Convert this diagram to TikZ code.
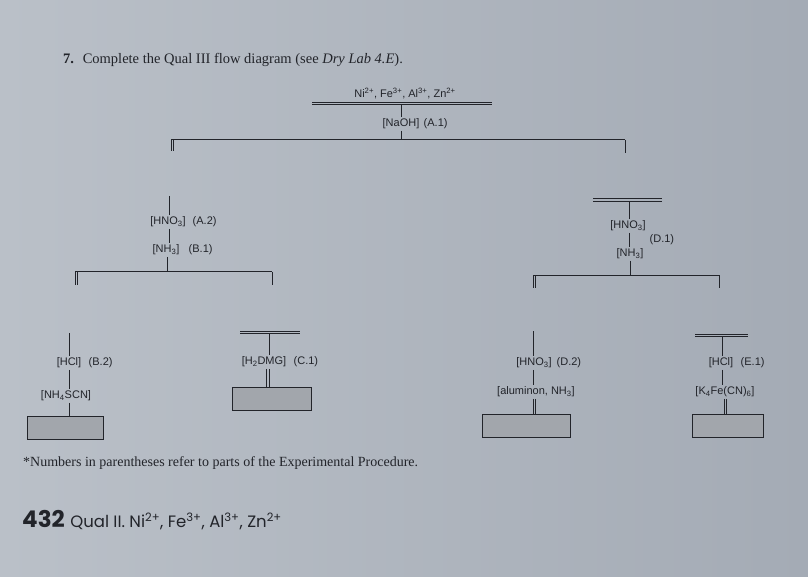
\documentclass[tikz,border=0pt]{standalone}
\usepackage{fontspec}
\setmainfont{Liberation Serif}
\setsansfont{Liberation Sans}
\newfontfamily\geofont{Poppins}
\definecolor{ink}{RGB}{34,36,42}
\definecolor{paperL}{RGB}{186,192,200}
\definecolor{paperR}{RGB}{164,171,181}
\definecolor{boxgray}{RGB}{162,166,172}
\begin{document}
\begin{tikzpicture}[x=1pt,y=-1pt,
  ln/.style={draw=ink, line width=1pt},
  lbl/.style={font=\sffamily\fontsize{11}{13}\selectfont, text=ink, inner sep=1.5pt},
  prodbox/.style={draw=ink, fill=boxgray, line width=1pt, inner sep=0pt, minimum height=23pt}]
\useasboundingbox (0,0) rectangle (808,577);
\fill[left color=paperL, right color=paperR] (0,0) rectangle (808,577);

% title
\node[anchor=west, text=ink, font=\fontsize{14.5}{17}\selectfont, inner sep=0pt] (title) at (63,60)
  {{\bfseries 7.}\hspace{0.6em}Complete the Qual III flow diagram (see \textit{Dry Lab 4.E}).};

% top
\node[lbl] (ions) at (405,94) {Ni\textsuperscript{2+}, Fe\textsuperscript{3+}, Al\textsuperscript{3+}, Zn\textsuperscript{2+}};
\coordinate (t1) at (312,102.5); \coordinate (t2) at (492,102.5);
\draw[ln] (t1) -- (t2);
\draw[ln] ([yshift=-2.3pt]t1) -- ([yshift=-2.3pt]t2);
\coordinate (t0) at (401,104.8);
\node[lbl] (naoh) at (401,124) {[NaOH]};
\node[lbl, anchor=west] (a1) at (422,124) {(A.1)};
\draw[ln] (t0) -- (naoh.north);
\coordinate (b1m) at (401,140); \coordinate (b1l) at (171,140); \coordinate (b1r) at (625,140);
\draw[ln] (naoh.south) -- (b1m);
\draw[ln] (b1l) -- (b1r);
\draw[ln] (b1l) -- ++(0,11);
\draw[ln] ([xshift=2.3pt]b1l) -- ++(0,11);
\draw[ln] (b1r) -- ++(0,13);

% left branch
\coordinate (l0) at (169,196);
\node[lbl] (hno3a) at (168,222) {[HNO\textsubscript{3}]};
\node[lbl, anchor=west] (a2) at (191,222) {(A.2)};
\node[lbl] (nh3b) at (166,250) {[NH\textsubscript{3}]};
\node[lbl, anchor=west] (b1) at (187,250) {(B.1)};
\coordinate (b2l) at (75,272); \coordinate (b2r) at (272,272); \coordinate (b2m) at (167,272);
\draw[ln] (l0) -- (l0 |- hno3a.north);
\draw[ln] (l0 |- hno3a.south) -- (nh3b.north -| l0);
\draw[ln] (nh3b.south -| b2m) -- (b2m);
\draw[ln] (b2l) -- (b2r);
\draw[ln] (b2l) -- ++(0,13);
\draw[ln] ([xshift=2.3pt]b2l) -- ++(0,13);
\draw[ln] (b2r) -- ++(0,13);

% right branch
\coordinate (r1) at (593,199); \coordinate (r2) at (662,199);
\draw[ln] (r1) -- (r2);
\draw[ln] ([yshift=-2.3pt]r1) -- ([yshift=-2.3pt]r2);
\coordinate (r0) at (629,201.3);
\node[lbl] (hno3d) at (628,226) {[HNO\textsubscript{3}]};
\node[lbl, anchor=west] (d1) at (648,240) {(D.1)};
\node[lbl] (nh3d) at (630,254) {[NH\textsubscript{3}]};
\coordinate (b3l) at (533,275.5); \coordinate (b3r) at (719,275.5); \coordinate (b3m) at (630,275.5);
\draw[ln] (r0) -- (r0 |- hno3d.north);
\draw[ln] (r0 |- hno3d.south) -- (nh3d.north -| r0);
\draw[ln] (nh3d.south) -- (b3m);
\draw[ln] (b3l) -- (b3r);
\draw[ln] (b3l) -- ++(0,12);
\draw[ln] ([xshift=2.3pt]b3l) -- ++(0,12);
\draw[ln] (b3r) -- ++(0,12);

% B.2
\coordinate (p0) at (69,333);
\node[lbl] (hcl1) at (69,363) {[HCl]};
\node[lbl, anchor=west] (b2) at (87,363) {(B.2)};
\node[lbl] (nh4scn) at (66,396) {[NH\textsubscript{4}SCN]};
\node[prodbox, minimum width=76pt] (box1) at (65,427.5) {};
\draw[ln] (p0) -- (hcl1.north);
\draw[ln] (hcl1.south) -- (hcl1.south |- nh4scn.north);
\draw[ln] (nh4scn.south -| hcl1) -- (box1.north -| hcl1);

% C.1
\coordinate (c1) at (240,331); \coordinate (c2) at (300,331);
\draw[ln] (c1) -- (c2);
\draw[ln] ([yshift=-2.3pt]c1) -- ([yshift=-2.3pt]c2);
\coordinate (c0) at (269,333.3);
\node[lbl] (h2dmg) at (264,362) {[H\textsubscript{2}DMG]};
\node[lbl, anchor=west] (c1l) at (292,362) {(C.1)};
\node[prodbox, minimum width=79pt] (box2) at (271.5,398.5) {};
\draw[ln] (c0) -- (c0 |- h2dmg.north);
\draw[ln] (h2dmg.south -| c0) -- (box2.north -| c0);
\draw[ln] ([xshift=-2.3pt]h2dmg.south -| c0) -- ([xshift=-2.3pt]box2.north -| c0);

% D.2
\coordinate (d0) at (533,331);
\node[lbl] (hno3e) at (534,363) {[HNO\textsubscript{3}]};
\node[lbl, anchor=west] (d2) at (555,363) {(D.2)};
\node[lbl] (alum) at (536,392) {[aluminon, NH\textsubscript{3}]};
\node[prodbox, minimum width=88pt] (box3) at (526,425.5) {};
\draw[ln] (d0) -- (d0 |- hno3e.north);
\draw[ln] (d0 |- hno3e.south) -- (d0 |- alum.north);
\draw[ln] (d0 |- alum.south) -- (d0 |- box3.north);
\draw[ln] ([xshift=2.3pt]d0 |- alum.south) -- ([xshift=2.3pt]d0 |- box3.north);

% E.1
\coordinate (e1) at (695,334); \coordinate (e2) at (748,334);
\draw[ln] (e1) -- (e2);
\draw[ln] ([yshift=-2.3pt]e1) -- ([yshift=-2.3pt]e2);
\coordinate (e0) at (722,336.3);
\node[lbl] (hcl2) at (721,363) {[HCl]};
\node[lbl, anchor=west] (e1l) at (739,363) {(E.1)};
\node[lbl] (k4) at (725,392) {[K\textsubscript{4}Fe(CN)\textsubscript{6}]};
\node[prodbox, minimum width=71pt] (box4) at (727.5,425.5) {};
\draw[ln] (e0) -- (e0 |- hcl2.north);
\draw[ln] (e0 |- hcl2.south) -- (e0 |- k4.north);
\draw[ln] ([xshift=2pt]e0 |- k4.south) -- ([xshift=2pt]e0 |- box4.north);
\draw[ln] ([xshift=4.3pt]e0 |- k4.south) -- ([xshift=4.3pt]e0 |- box4.north);

% footnote
\node[anchor=west, text=ink, font=\fontsize{14}{16}\selectfont, inner sep=0pt] (foot) at (23,463)
  {*Numbers in parentheses refer to parts of the Experimental Procedure.};

% page footer
\node[anchor=west, text=ink, inner sep=0pt] (page) at (22,520)
  {{\geofont\bfseries\fontsize{23}{26}\selectfont 432}\hspace{0.55em}{\geofont\fontsize{16.5}{19}\selectfont Qual II. Ni\textsuperscript{2+}, Fe\textsuperscript{3+}, Al\textsuperscript{3+}, Zn\textsuperscript{2+}}};
\end{tikzpicture}
\end{document}
